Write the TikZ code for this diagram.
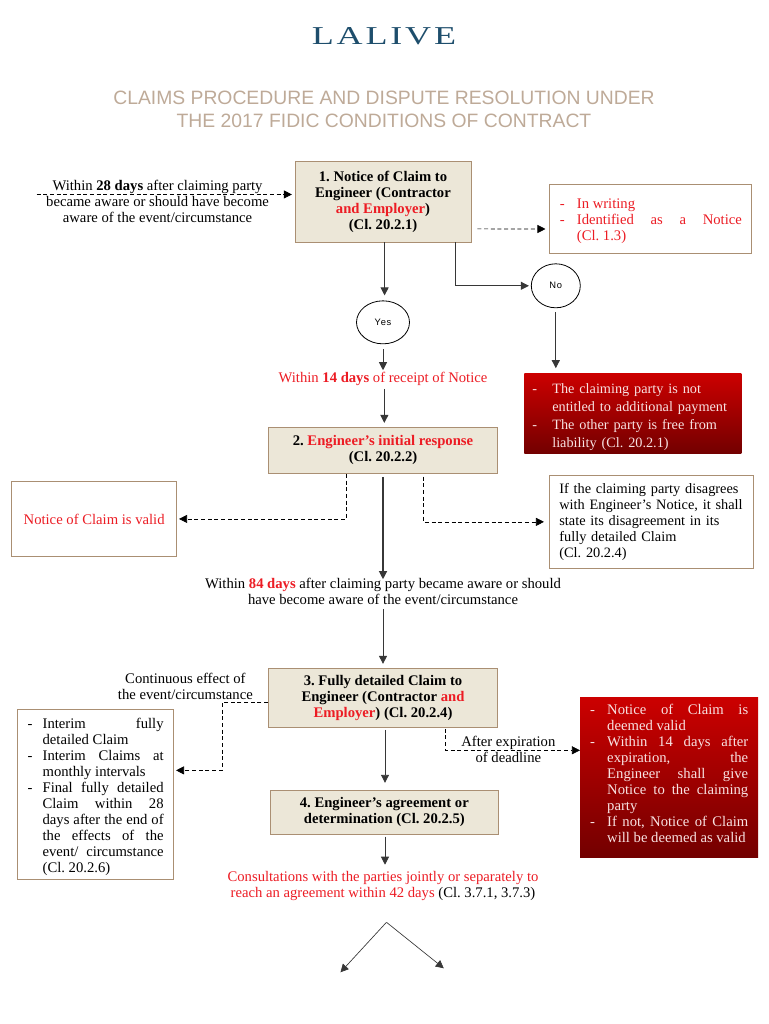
\documentclass[tikz,border=0pt]{standalone}
\usepackage{fontspec}
\setmainfont{Liberation Serif}
\setsansfont{Liberation Sans}
\newfontfamily\logofont[LetterSpace=11,FakeStretch=1.4]{Liberation Serif}
\newfontfamily\yesnofont[LetterSpace=8]{Liberation Sans}
\usepackage{xcolor}
\usepackage{tikz}
\usetikzlibrary{positioning,arrows.meta,shapes.geometric}
\definecolor{BoxFill}{RGB}{236,231,216}
\definecolor{BoxLine}{RGB}{170,143,115}
\definecolor{ClaimRed}{RGB}{236,28,36}
\definecolor{TitleTan}{RGB}{190,170,152}
\definecolor{LogoBlue}{RGB}{30,78,108}
\definecolor{LineGray}{RGB}{55,55,55}
\definecolor{NoteWhite}{RGB}{248,226,226}
\newlength{\dashhang}
\newcommand{\dashline}[1]{\par\hangindent=\dashhang\hangafter=1\noindent\makebox[\dashhang][l]{-}#1\par}
\newcommand{\rd}[1]{\textcolor{ClaimRed}{#1}}

\begin{document}
\begin{tikzpicture}[
    every node/.append style={execute at begin node={\frenchspacing}},
    stagebox/.style={rectangle, draw=BoxLine, fill=BoxFill, line width=0.7pt,
                     align=center, font=\bfseries, inner sep=0pt},
    notebox/.style={rectangle, draw=BoxLine, fill=white, line width=0.6pt, inner sep=0pt},
    listbox/.style={notebox, inner xsep=7.5pt, align=justify},
    redbox/.style={rectangle, top color=red!80!black, bottom color=red!45!black, text=NoteWhite,
                   inner xsep=7.5pt, inner ysep=0pt, align=justify},
    decision/.style={ellipse, draw=black, line width=0.6pt, fill=white, inner sep=0pt,
                     font=\yesnofont\fontsize{7}{8}\selectfont},
    plaintext/.style={align=center, inner sep=0pt},
    arrow/.style={-{Triangle[length=6pt,width=6pt]}, draw=LineGray, line width=0.7pt},
    dasharrow/.style={arrow, densely dashed, line width=0.45pt, draw=black}
]
    \useasboundingbox (0,0) rectangle (576pt,-768pt);
    \fontsize{11}{12}\selectfont
    \tolerance=9999 \hyphenpenalty=10000

    % heading
    \node[inner sep=0pt, text=LogoBlue, font=\logofont\fontsize{19.3}{20}\selectfont] (logo) at (288pt,-27.5pt) {LALIVE};
    \node[inner sep=0pt, text=TitleTan, align=center, font=\sffamily\fontsize{14.5}{17.25}\selectfont,
          below=34pt of logo] (title) {CLAIMS PROCEDURE AND DISPUTE RESOLUTION UNDER\\THE 2017 FIDIC CONDITIONS OF CONTRACT};

    % main column
    \node[stagebox, minimum width=132pt, minimum height=60.75pt] (box1) at (287.25pt,-151.1pt)
        {1. Notice of Claim to\\Engineer (Contractor\\\rd{and Employer})\\(Cl. 20.2.1)};
    \node[decision, minimum width=39.75pt, minimum height=32.25pt, below=43.5pt of box1] (yes) {Yes};
    \node[plaintext, text=ClaimRed, below=21pt of yes] (within14) {Within \textbf{14 days} of receipt of Notice};
    \node[stagebox, minimum width=171.75pt, minimum height=34.5pt, below=30.5pt of within14] (box2)
        {2. \rd{Engineer's initial response}\\(Cl. 20.2.2)};
    \node[plaintext, below=78pt of box2] (within84)
        {Within \textbf{\rd{84 days}} after claiming party became aware or should\\have become aware of the event/circumstance};
    \node[stagebox, minimum width=171.75pt, minimum height=44.25pt, below=47.25pt of within84] (box3)
        {3. Fully detailed Claim to\\Engineer (Contractor \rd{and}\\\rd{Employer}) (Cl. 20.2.4)};
    \node[stagebox, minimum width=171pt, minimum height=33pt, below=46.5pt of box3, xshift=1pt] (box4)
        {4. Engineer's agreement or\\determination (Cl. 20.2.5)};
    \node[plaintext, below=27pt of box4, xshift=-1pt] (consult)
        {\rd{Consultations with the parties jointly or separately to}\\\rd{reach an agreement within 42 days} (Cl. 3.7.1, 3.7.3)};
    \coordinate[below=16.25pt of consult, xshift=2.6pt] (fork);
    \coordinate[below=37.5pt of fork, xshift=-34.5pt] (forkleft);
    \coordinate[below=34.5pt of fork, xshift=43pt] (forkright);

    % side notes
    \node[plaintext, left=19pt of box1] (within28)
        {Within \textbf{28 days} after claiming party\\became aware or should have become\\aware of the event/circumstance};
    \node[listbox, text=ClaimRed, text width=136.5pt, minimum height=51.75pt, right=58.5pt of box1, yshift=-12.75pt] (inwriting)
        {\setlength{\dashhang}{12.75pt}\dashline{In writing}\dashline{Identified as a Notice\linebreak (Cl. 1.3)}};
    \node[decision, minimum width=36.75pt, minimum height=33pt, right=90.75pt of yes, yshift=27.4pt] (no) {No};
    \node[redbox, inner xsep=6pt, text width=150.75pt, minimum height=60pt, below=48.75pt of no, xshift=57.75pt, align=left] (redone)
        {\fontsize{10.7}{13.5}\selectfont\setlength{\dashhang}{15pt}\dashline{The claiming party is not\linebreak entitled to additional payment}\dashline{The other party is free from\linebreak liability (Cl. 20.2.1)}};
    \node[notebox, minimum width=123.75pt, minimum height=56.25pt, left=68.25pt of box2, yshift=-51.4pt, text=ClaimRed] (valid) {Notice of Claim is valid};
    \node[notebox, inner xsep=4.5pt, text width=144pt, minimum height=69.75pt, align=left, right=38.25pt of box2, yshift=-53.6pt, font=\fontsize{10.75}{12}\selectfont] (ifparty)
        {\hspace{3pt}If the claiming party disagrees\\\hspace{3pt}with Engineer's Notice, it shall\\\hspace{3pt}state its disagreement in its\\\hspace{3pt}fully detailed Claim\\\hspace{3pt}(Cl. 20.2.4)};
    \node[plaintext, left=11.25pt of box3, yshift=8.6pt] (continuous) {Continuous effect of\\the event/circumstance};
    \node[listbox, text width=102pt, minimum height=127.5pt, left=70.5pt of box3, yshift=-72.4pt] (interim)
        {\setlength{\dashhang}{11.25pt}\dashline{Interim fully\linebreak detailed Claim}\dashline{Interim Claims at\linebreak monthly intervals}\dashline{Final fully detailed\linebreak Claim within 28\linebreak days after the end of\linebreak the effects of the\linebreak event/ circumstance\linebreak (Cl. 20.2.6)}};
    \node[plaintext, below=6.25pt of box3, xshift=94pt] (expiry) {After expiration\\of deadline};
    \node[redbox, text width=118.5pt, minimum height=120pt, right=61.5pt of box3, yshift=-59.6pt] (redtwo)
        {\setlength{\dashhang}{12.75pt}\dashline{Notice of Claim is\linebreak deemed valid}\dashline{Within 14 days after\linebreak expiration, the\linebreak Engineer shall give\linebreak Notice to the claiming\linebreak party}\dashline{If not, Notice of Claim\linebreak will be deemed as valid}\vspace{10pt}};

    % solid connectors
    \draw[arrow, shorten >=3.75pt] ([xshift=1.2pt]box1.south) -- ([xshift=1.2pt]yes.north);
    \draw[arrow, shorten >=1.5pt] ([xshift=54pt]box1.south) |- (no.west);
    \draw[arrow, shorten <=3.75pt, shorten >=1.5pt] (yes.south) -- (within14.north);
    \draw[arrow, shorten <=2pt, shorten >=3pt] ([xshift=1pt]within14.south) -- ([xshift=1pt]box2.north);
    \draw[arrow, line width=0.9pt, shorten <=2.25pt, shorten >=-1pt] (box2.south) -- (within84.north);
    \draw[arrow, shorten <=3pt, shorten >=3pt] (within84.south) -- (box3.north);
    \draw[arrow, shorten <=1.5pt, shorten >=5.25pt] ([xshift=1.5pt]box3.south) -- ([xshift=1.5pt]box3.south |- box4.north);
    \draw[arrow, shorten <=1.5pt, shorten >=4.5pt] ([xshift=.5pt]box4.south) -- ([xshift=.5pt]box4.south |- consult.north);
    \draw[arrow, shorten <=3pt, shorten >=3.75pt] (no.south) -- (no.south |- redone.north);
    \draw[arrow, line width=0.5pt] (fork) -- (forkleft);
    \draw[arrow, line width=0.5pt] (fork) -- (forkright);

    % dashed connectors
    \draw[dasharrow, shorten >=2pt] ([yshift=5.25pt]within28.west) ++(-7pt,0) -- ([yshift=5.25pt]within28.west -| box1.west);
    \draw[dasharrow, shorten <=4.5pt, shorten >=3pt] ([yshift=-20.6pt]box1.east) -- ([yshift=-7.9pt]inwriting.west);
    \draw[dasharrow] ([xshift=-27.4pt]box2.south) |- ([xshift=1.5pt]valid.east);
    \draw[dasharrow, shorten <=2pt, shorten >=3.75pt] ([xshift=30.4pt]box2.south) |- (ifparty.west);
    \draw[dasharrow] ([yshift=-3.4pt]box3.west) -- ++(-34.5pt,0) |- ([yshift=18pt,xshift=1.5pt]interim.east);
    \draw[dasharrow, shorten <=.75pt] ([xshift=46.9pt]box3.south) |- ([yshift=20.25pt]redtwo.west);
\end{tikzpicture}
\end{document}
